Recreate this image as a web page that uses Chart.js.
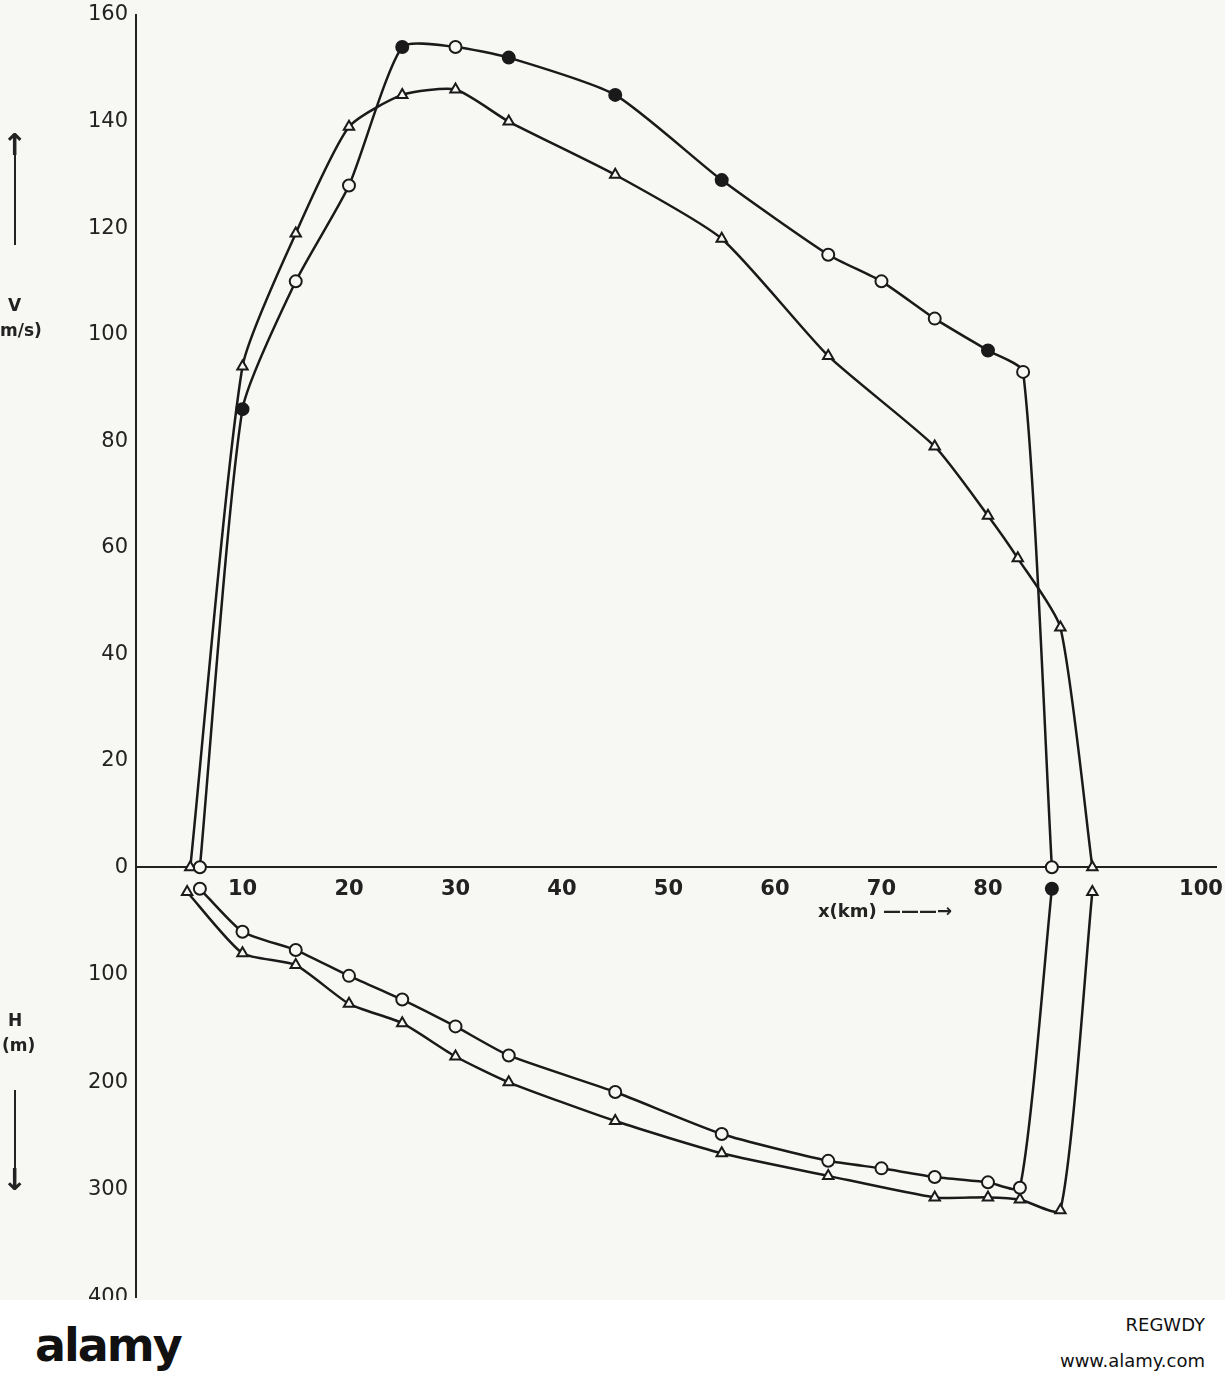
<!DOCTYPE html>
<html><head><meta charset="utf-8">
<script src="https://cdn.jsdelivr.net/npm/chart.js@4/dist/chart.umd.min.js"></script>
<style>
body{margin:0;background:#fff;font-family:"DejaVu Sans",sans-serif;}
#wrap{position:relative;width:1225px;height:1300px;background:#f7f7f3;overflow:hidden;}
canvas{position:absolute;left:0;top:0;}
.lb{position:absolute;font-weight:bold;font-size:17px;color:#222;text-align:center;}
#band{position:relative;width:1225px;height:90px;background:#fff;}
</style></head><body>
<div id="wrap"><canvas id="c" width="1225" height="1312"></canvas>
<div class="lb" style="left:2px;top:130px;font-size:30px;line-height:30px">&#8593;</div>
<div class="lb" style="left:14px;top:155px;width:2px;height:90px;background:#222"></div>
<div class="lb" style="left:8px;top:295px">V</div>
<div class="lb" style="left:0px;top:320px">m/s)</div>
<div class="lb" style="left:8px;top:1010px">H</div>
<div class="lb" style="left:2px;top:1035px">(m)</div>
<div class="lb" style="left:14px;top:1090px;width:2px;height:90px;background:#222"></div>
<div class="lb" style="left:2px;top:1165px;font-size:30px;line-height:30px">&#8595;</div>
<div class="lb" style="left:818px;top:900px;font-size:18px">x(km) &#8212;&#8212;&#8212;&#8594;</div>
</div>
<div id="band">
<div style="position:absolute;left:35px;top:18px;font:bold 46px 'DejaVu Sans';letter-spacing:-2px;color:#111">alamy</div>
<div style="position:absolute;right:20px;top:14px;font:18px 'DejaVu Sans';color:#111">REGWDY</div>
<div style="position:absolute;right:20px;top:50px;font:18px 'DejaVu Sans';color:#111">www.alamy.com</div>
</div>
<script>
const K = 1.07/5.3; // px per metre / px per m/s
const vCircX = [6,10,15,20,25,30,35,45,55,65,70,75,80,83.3,86];
const vCircV = [0,86,110,128,154,154,152,145,129,115,110,103,97,93,0];
const vCircFilled = [0,1,0,0,1,0,1,1,1,0,0,0,1,0,0];
const vTriX = [5.1,10,15,20,25,30,35,45,55,65,75,80,82.8,86.8,89.8];
const vTriV = [0,94,119,139,145,146,140,130,118,96,79,66,58,45,0];
const hCircX = [6,10,15,20,25,30,35,45,55,65,70,75,80,83,86];
const hCircH = [20,60,77,101,123,148,175,209,248,273,280,288,293,298,20];
const hCircFilled = [0,0,0,0,0,0,0,0,0,0,0,0,0,0,1];
const hTriX = [4.8,10,15,20,25,30,35,45,55,65,75,80,83,86.8,89.8];
const hTriH = [23,80,91,127,145,176,200,236,266,287,307,307,309,319,23];
const xTicks = [10,20,30,40,50,60,70,80,100];
const vTicks = [0,20,40,60,80,100,120,140,160];
const hTicks = [100,200,300,400];

const pts=(xs,ys,f)=>xs.map((x,i)=>({x,y:f(ys[i])}));
const ds=(data,style,fill)=>({data,borderColor:'#1a1a1a',borderWidth:2.5,tension:0.2,
  pointStyle:style,pointRadius:6,pointBorderWidth:2,pointBorderColor:'#1a1a1a',
  pointBackgroundColor:fill?fill.map(v=>v?'#1a1a1a':'#f7f7f3'):'#f7f7f3',showLine:true});
new Chart(document.getElementById('c'),{type:'scatter',
 data:{datasets:[
  ds(pts(vCircX,vCircV,v=>v),'circle',vCircFilled),
  ds(pts(vTriX,vTriV,v=>v),'triangle'),
  ds(pts(hCircX,hCircH,h=>-h*K),'circle',hCircFilled),
  ds(pts(hTriX,hTriH,h=>-h*K),'triangle')]},
 options:{responsive:false,animation:false,plugins:{legend:{display:false},tooltip:{enabled:false}},
  layout:{padding:{top:15,right:0,bottom:0}},
  scales:{
   x:{type:'linear',min:0,max:101.5,position:{y:0},
     afterBuildTicks:s=>{s.ticks=xTicks.map(v=>({value:v}));},
     grid:{display:false,drawTicks:true,tickLength:8,color:'#222'},border:{color:'#222',width:2},
     ticks:{color:'#222',font:{size:21,weight:'bold',family:'DejaVu Sans'},padding:2}},
   y:{type:'linear',min:-400*K,max:160,
     afterFit:s=>{s.width=136;},
     afterBuildTicks:s=>{s.ticks=[...vTicks.map(v=>({value:v})),...hTicks.map(h=>({value:-h*K}))];},
     grid:{display:false,tickLength:6,color:'#222'},border:{color:'#222',width:2},
     ticks:{color:'#222',font:{size:21,family:'DejaVu Sans'},padding:2,
       callback:v=>v>=0?String(Math.round(v)):String(Math.round(-v/K))}}}}});
</script></body></html>
